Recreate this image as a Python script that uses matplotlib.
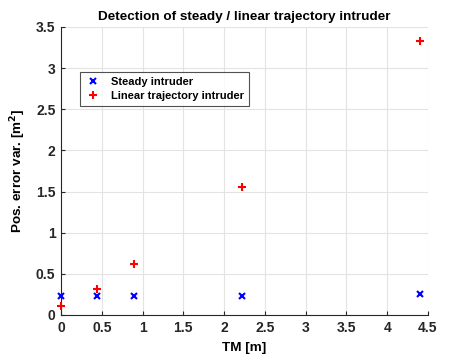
import matplotlib
matplotlib.use("Agg")
import matplotlib.pyplot as plt

tm_steady = [0, 0.44, 0.89, 2.22, 4.4]
err_steady = [0.23, 0.23, 0.23, 0.23, 0.255]
tm_linear = [0, 0.44, 0.89, 2.22, 4.4]
err_linear = [0.105, 0.32, 0.62, 1.56, 3.33]
xticks = [0, 0.5, 1, 1.5, 2, 2.5, 3, 3.5, 4, 4.5]
yticks = [0, 0.5, 1, 1.5, 2, 2.5, 3, 3.5]

plt.rcParams['font.family'] = ['Liberation Sans', 'DejaVu Sans']
plt.rcParams['font.weight'] = 'bold'

fig = plt.figure(figsize=(4.74, 3.55), dpi=100)
ax = fig.add_axes([61/474, 40/355, 367/474, 288/355])

ax.plot(tm_steady, err_steady, linestyle='none', marker='x', color='#0000ff',
        markersize=5, markeredgewidth=1.5, label='Steady intruder', clip_on=False, zorder=5)
ax.plot(tm_linear, err_linear, linestyle='none', marker='+', color='#ff0000',
        markersize=6, markeredgewidth=1.5, label='Linear trajectory intruder', clip_on=False, zorder=5)

ax.set_xlim(0, 4.5)
ax.set_ylim(0, 3.5)
ax.set_xticks(xticks)
ax.set_yticks(yticks)
ax.set_xticklabels([f"{t:g}" for t in xticks])
ax.set_yticklabels([f"{t:g}" for t in yticks])
ax.grid(True, color='#e3e3e3', linewidth=0.8)
ax.set_axisbelow(True)
for s in ['top', 'right']:
    ax.spines[s].set_visible(False)
for s in ['left', 'bottom']:
    ax.spines[s].set_color('#262626')
    ax.spines[s].set_linewidth(0.8)
ax.tick_params(direction='in', length=3, labelsize=10, colors='#262626',
               labelcolor='#262626', pad=4)
for lab in ax.get_xticklabels() + ax.get_yticklabels():
    lab.set_fontweight('bold')

ax.set_title('Detection of steady / linear trajectory intruder', fontsize=9.7,
             fontweight='bold', pad=5)
ax.set_xlabel('TM [m]', fontsize=9.7, fontweight='bold', labelpad=5)
ax.set_ylabel('Pos. error var. [m$^\\mathbf{2}$]', fontsize=9.7, fontweight='bold', labelpad=6)

leg = ax.legend(loc='upper left', bbox_to_anchor=(19/367, 243/288), fontsize=8,
                frameon=True, fancybox=False, edgecolor='#262626',
                borderpad=0.45, labelspacing=0.35, handlelength=1.5,
                handletextpad=0.8, borderaxespad=0)
leg.get_frame().set_linewidth(0.8)
for t in leg.get_texts():
    t.set_fontweight('bold')

fig.savefig('out.png', dpi=100)
